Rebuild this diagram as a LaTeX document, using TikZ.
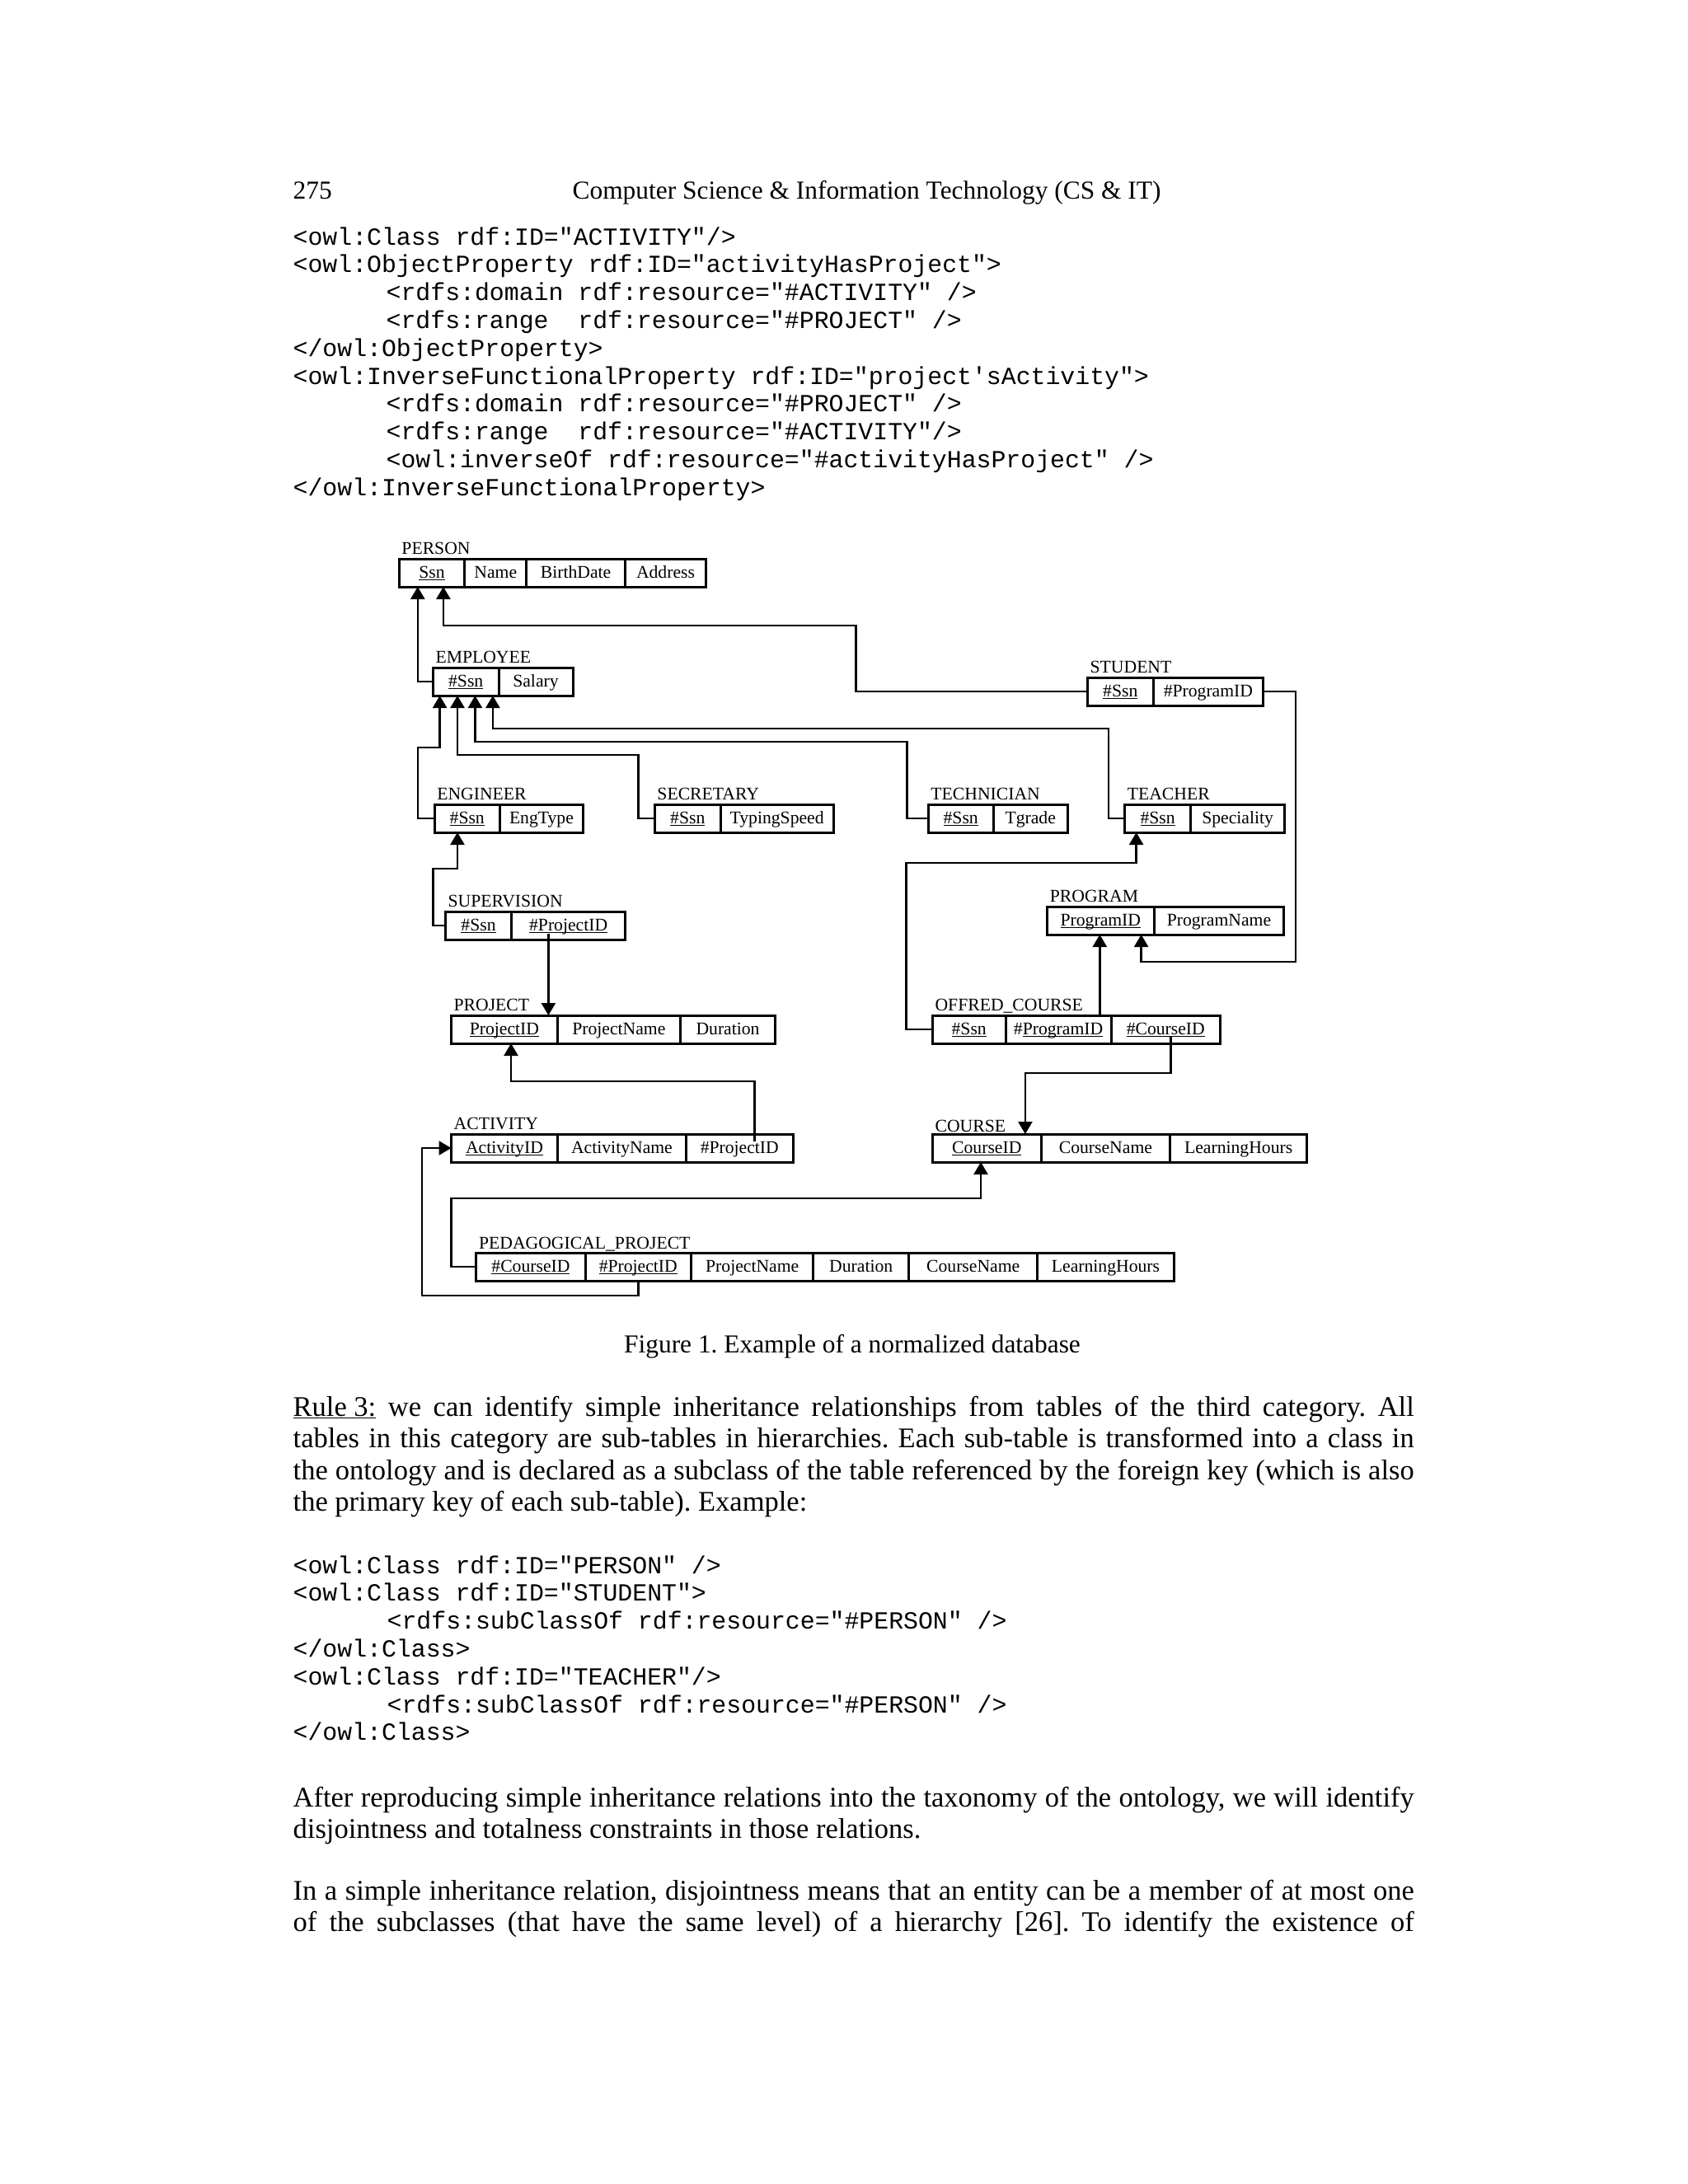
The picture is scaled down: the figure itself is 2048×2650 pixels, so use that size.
\documentclass[tikz,border=0pt]{standalone}
\usepackage{fontspec}
\setmainfont{Liberation Serif}
\newfontfamily\codefont{Liberation Mono}
\usetikzlibrary{arrows.meta,positioning}
\newdimen\px \px=0.3pt
\frenchspacing
\newcommand{\headtext}{\fontsize{9.42pt}{11.6pt}\selectfont}
\newcommand{\bodytext}{\fontsize{10.35pt}{11.6pt}\selectfont}
\newcommand{\codetext}{\codefont\fontsize{8.95pt}{10.1pt}\selectfont}
\newcommand{\tabtext}{\fontsize{6.5pt}{7.5pt}\selectfont}
\newcommand{\key}[1]{\begingroup\setbox0\hbox{#1}\rlap{\vrule height -0.55pt depth 0.9pt width \wd0}\box0\endgroup}
\newcommand{\spread}[1]{\hbox to 1360\px{#1}}

\begin{document}
\begin{tikzpicture}[
    x=\px, y=-\px,
    cell/.style={rectangle,draw,line width=0.9pt,minimum height=34\px,inner sep=0pt,outer sep=0pt,
      text height=16\px,text depth=4\px,font=\tabtext},
    tname/.style={anchor=base west,inner sep=0pt,xshift=2.5\px,yshift=6\px,font=\tabtext},
    fk/.style={line width=0.75pt,-{Triangle[length=4.5pt,width=5.1pt]}},
    codeline/.style={anchor=base west,inner sep=0pt,font=\codetext},
    textline/.style={anchor=base west,inner sep=0pt,font=\bodytext}
  ]
    \fill[white] (0,0) rectangle (2048,2650);

    \node[textline,font=\headtext] (pagenum) at (355,241) {275};
    \node[textline,font=\headtext] (runhead) at (694,241) {Computer Science \& Information Technology (CS \& IT)};

    \node[codeline] (owlA) at (355,297) {<owl:Class rdf:ID="ACTIVITY"/>};
    \node[codeline] (owlB) at (355,330.8) {<owl:ObjectProperty rdf:ID="activityHasProject">};
    \node[codeline] (owlC) at (468,364.6) {<rdfs:domain rdf:resource="\#ACTIVITY" />};
    \node[codeline] (owlD) at (468,398.4) {<rdfs:range\ \ rdf:resource="\#PROJECT" />};
    \node[codeline] (owlE) at (355,432.2) {</owl:ObjectProperty>};
    \node[codeline] (owlF) at (355,466) {<owl:InverseFunctionalProperty rdf:ID="project\textquotesingle sActivity">};
    \node[codeline] (owlG) at (468,499.8) {<rdfs:domain rdf:resource="\#PROJECT" />};
    \node[codeline] (owlH) at (468,533.6) {<rdfs:range\ \ rdf:resource="\#ACTIVITY"/>};
    \node[codeline] (owlI) at (468,567.4) {<owl:inverseOf rdf:resource="\#activityHasProject" />};
    \node[codeline] (owlJ) at (355,601.2) {</owl:InverseFunctionalProperty>};

    \node[cell,anchor=north west,minimum width=79.3\px] (pssn) at (484.3,678) {\key{Ssn}};
    \node[cell,right=0pt of pssn,minimum width=75.3\px] (pname) {Name};
    \node[cell,right=0pt of pname,minimum width=119.3\px] (pbirth) {BirthDate};
    \node[cell,right=0pt of pbirth,minimum width=98.6\px] (paddr) {Address};
    \node[tname] (plbl) at (pssn.north west) {PERSON};

    \node[cell,anchor=north west,minimum width=79.6\px] (essn) at (525.4,810) {\key{\#Ssn}};
    \node[cell,right=0pt of essn,minimum width=90\px] (esal) {Salary};
    \node[tname] (elbl) at (essn.north west) {EMPLOYEE};

    \node[cell,anchor=north west,minimum width=79.6\px] (sssn) at (1319.5,822) {\key{\#Ssn}};
    \node[cell,right=0pt of sssn,minimum width=133.6\px] (spid) {\#ProgramID};
    \node[tname] (slbl) at (sssn.north west) {STUDENT};

    \node[cell,anchor=north west,minimum width=79.3\px] (gssn) at (527.1,976) {\key{\#Ssn}};
    \node[cell,right=0pt of gssn,minimum width=101.1\px] (gtype) {EngType};
    \node[tname] (glbl) at (gssn.north west) {ENGINEER};

    \node[cell,anchor=north west,minimum width=80\px] (cssn) at (794.3,976) {\key{\#Ssn}};
    \node[cell,right=0pt of cssn,minimum width=136.7\px] (cspeed) {TypingSpeed};
    \node[tname] (clbl) at (cssn.north west) {SECRETARY};

    \node[cell,anchor=north west,minimum width=78.8\px] (tssn) at (1126.3,976) {\key{\#Ssn}};
    \node[cell,right=0pt of tssn,minimum width=90.3\px] (tgrade) {Tgrade};
    \node[tname] (tlbl) at (tssn.north west) {TECHNICIAN};

    \node[cell,anchor=north west,minimum width=79.9\px] (rssn) at (1364.7,976) {\key{\#Ssn}};
    \node[cell,right=0pt of rssn,minimum width=114.1\px] (rspec) {Speciality};
    \node[tname] (rlbl) at (rssn.north west) {TEACHER};

    \node[cell,anchor=north west,minimum width=80.3\px] (vssn) at (540.4,1106) {\key{\#Ssn}};
    \node[cell,right=0pt of vssn,minimum width=137.9\px] (vpid) {\key{\#ProjectID}};
    \node[tname] (vlbl) at (vssn.north west) {SUPERVISION};

    \node[cell,anchor=north west,minimum width=129.3\px] (gmid) at (1270.7,1100) {\key{ProgramID}};
    \node[cell,right=0pt of gmid,minimum width=157.9\px] (gmname) {ProgramName};
    \node[tname] (gmlbl) at (gmid.north west) {PROGRAM};

    \node[cell,anchor=north west,minimum width=128.9\px] (jid) at (547.5,1232) {\key{ProjectID}};
    \node[cell,right=0pt of jid,minimum width=149\px] (jname) {ProjectName};
    \node[cell,right=0pt of jname,minimum width=115.3\px] (jdur) {Duration};
    \node[tname] (jlbl) at (jid.north west) {PROJECT};

    \node[cell,anchor=north west,minimum width=88.6\px] (ossn) at (1131.4,1232) {\key{\#Ssn}};
    \node[cell,right=0pt of ossn,minimum width=128.2\px] (opid) {\#\key{ProgramID}};
    \node[cell,right=0pt of opid,minimum width=132.2\px] (ocid) {\key{\#CourseID}};
    \node[tname] (olbl) at (ossn.north west) {OFFRED\_COURSE};

    \node[cell,anchor=north west,minimum width=128.9\px] (aid) at (547.5,1376) {\key{ActivityID}};
    \node[cell,right=0pt of aid,minimum width=156.1\px] (aname) {ActivityName};
    \node[cell,right=0pt of aname,minimum width=129.6\px] (apid) {\#ProjectID};
    \node[tname] (albl) at (aid.north west) {ACTIVITY};

    \node[cell,anchor=north west,minimum width=131.8\px] (kid) at (1131.4,1376) {\key{CourseID}};
    \node[cell,right=0pt of kid,minimum width=156.4\px] (kname) {CourseName};
    \node[cell,right=0pt of kname,minimum width=166.1\px] (khours) {LearningHours};
    \node[tname,yshift=-3\px] (klbl) at (kid.north west) {COURSE};

    \node[cell,anchor=north west,minimum width=132.1\px] (dcid) at (577.9,1520) {\key{\#CourseID}};
    \node[cell,right=0pt of dcid,minimum width=128.6\px] (dpid) {\key{\#ProjectID}};
    \node[cell,right=0pt of dpid,minimum width=148.2\px] (dname) {ProjectName};
    \node[cell,right=0pt of dname,minimum width=115.9\px] (ddur) {Duration};
    \node[cell,right=0pt of ddur,minimum width=156\px] (dcname) {CourseName};
    \node[cell,right=0pt of dcname,minimum width=165.6\px] (dhours) {LearningHours};
    \node[tname,yshift=-1\px] (dlbl) at (dcid.north west) {PEDAGOGICAL\_PROJECT};

    \coordinate (vfk) at (665.4,1133);
    \coordinate (afk) at (915.7,1385);
    \coordinate (ofk) at (1420.4,1257);

    \draw[fk] (essn.west) -| (506.8,0 |- pssn.south);
    \draw[fk] (sssn.west) -| (1038.3,759) -| (537.9,0 |- pssn.south);
    \draw[fk] (gssn.west) -| (506.8,907) -| (533.6,0 |- essn.south);
    \draw[fk] (cssn.west) -| (774.6,916) -| (555,0 |- essn.south);
    \draw[fk] (tssn.west) -| (1100.3,900) -| (576.4,0 |- essn.south);
    \draw[fk] (rssn.west) -| (1345.2,884) -| (597.9,0 |- essn.south);
    \draw[fk] (vssn.west) -| (525.4,1054) -| (555,0 |- gssn.south);
    \draw[fk] (vfk) -- (665.4,0 |- jid.north);
    \draw[fk] (afk) |- (620,1312) -- (620,0 |- jid.south);
    \draw[fk] (dpid.south) |- (512.1,1572) |- (aid.west);
    \draw[fk] (dcid.west) -| (547.5,1454) -| (1190,0 |- kid.south);
    \draw[fk] (ofk) |- (1243.9,1302) -- (1243.9,0 |- kid.north);
    \draw[fk] (ossn.west) -| (1099.3,1047) -| (1378.6,0 |- rssn.south);
    \draw[fk] (1334.3,0 |- opid.north) -- (1334.3,0 |- gmid.south);
    \draw[fk] (spid.east) -| (1572.1,1167) -| (1384.6,0 |- gmid.south);

    \node[anchor=base,inner sep=0pt,font=\headtext] (caption) at (1034,1641) {Figure 1. Example of a normalized database};

    \node[textline] (ruleA) at (355,1718) {\spread{\key{Rule 3:} we can identify simple inheritance relationships from tables of the third category. All}};
    \node[textline] (ruleB) at (355,1756.5) {\spread{tables in this category are sub-tables in hierarchies. Each sub-table is transformed into a class in}};
    \node[textline] (ruleC) at (355,1795) {\spread{the ontology and is declared as a subclass of the table referenced by the foreign key (which is also}};
    \node[textline] (ruleD) at (355,1833.5) {the primary key of each sub-table). Example:};

    \node[codeline] (subA) at (355,1909) {<owl:Class rdf:ID="PERSON" />};
    \node[codeline] (subB) at (355,1942.8) {<owl:Class rdf:ID="STUDENT">};
    \node[codeline] (subC) at (469,1976.6) {<rdfs:subClassOf rdf:resource="\#PERSON" />};
    \node[codeline] (subD) at (355,2010.4) {</owl:Class>};
    \node[codeline] (subE) at (355,2044.2) {<owl:Class rdf:ID="TEACHER"/>};
    \node[codeline] (subF) at (469,2078) {<rdfs:subClassOf rdf:resource="\#PERSON" />};
    \node[codeline] (subG) at (355,2111.8) {</owl:Class>};

    \node[textline] (afterA) at (355,2192) {\spread{After reproducing simple inheritance relations into the taxonomy of the ontology, we will identify}};
    \node[textline] (afterB) at (355,2230.5) {disjointness and totalness constraints in those relations.};

    \node[textline] (disjA) at (355,2305) {\spread{In a simple inheritance relation, disjointness means that an entity can be a member of at most one}};
    \node[textline] (disjB) at (355,2343.5) {\spread{of the subclasses (that have the same level) of a hierarchy [26]. To identify the existence of}};
  \end{tikzpicture}
\end{document}
